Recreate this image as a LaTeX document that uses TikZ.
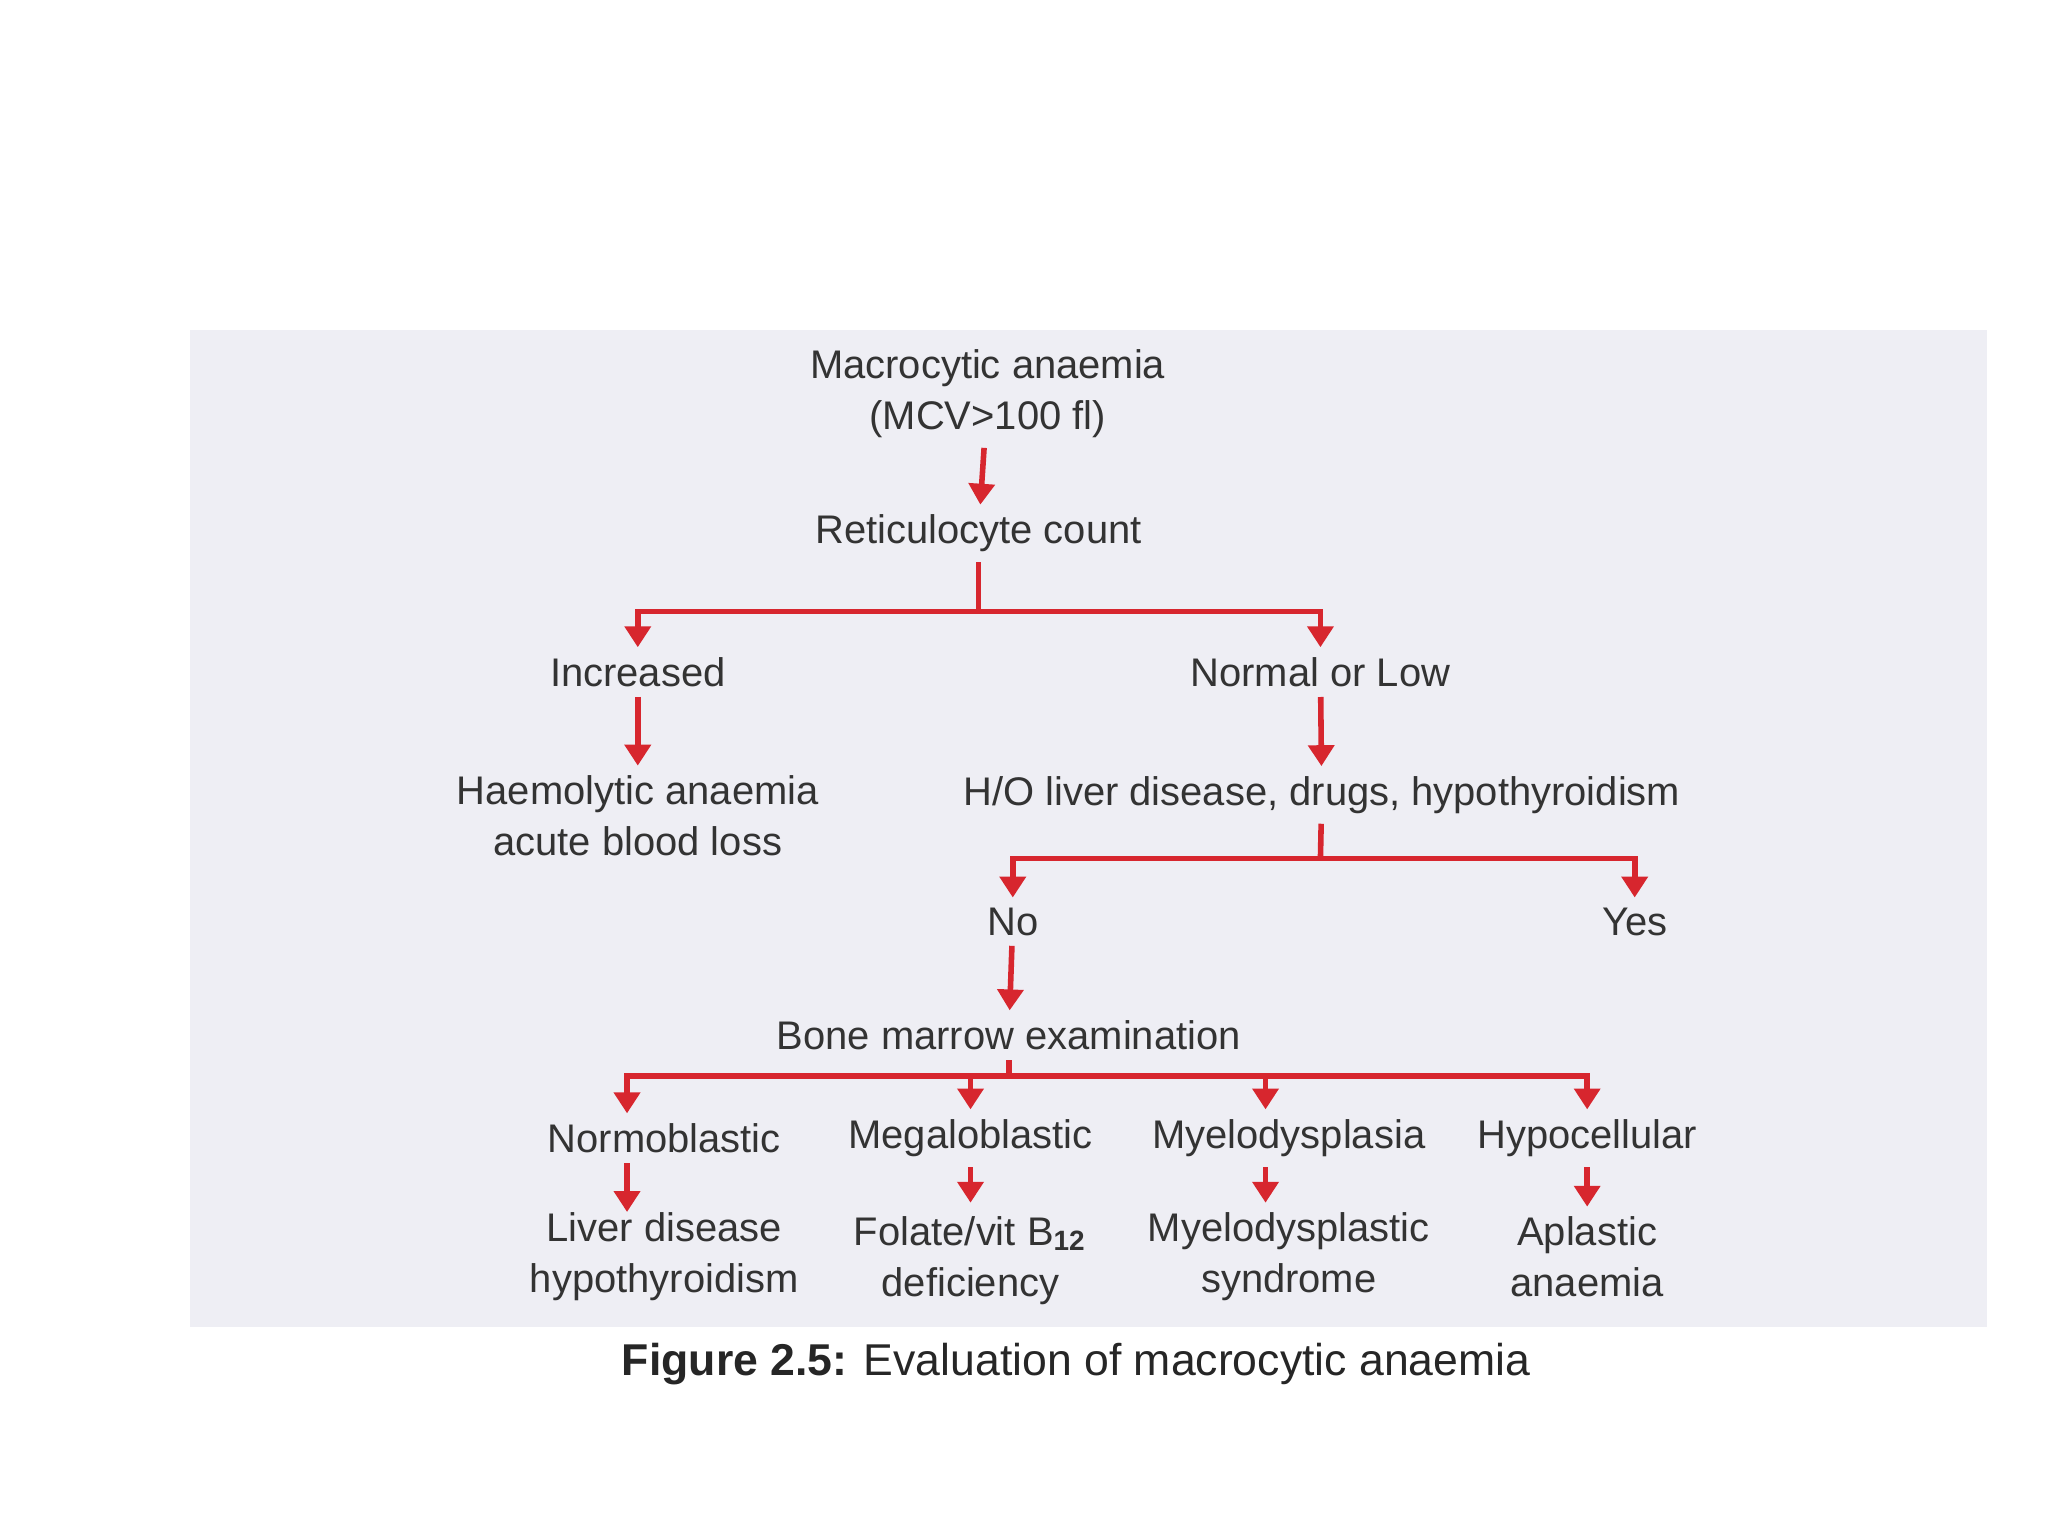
\documentclass[tikz,border=0pt]{standalone}
\usepackage{fontspec}
\setmainfont{Liberation Sans}
\usetikzlibrary{arrows.meta}
\definecolor{bgpanel}{HTML}{EEEEF4}
\definecolor{redline}{HTML}{D7262E}
\tikzset{
  box/.style={align=center,inner sep=2pt,font=\fontsize{8.6}{11}\selectfont,text=black!80},
  link/.style={draw=redline,line width=1.2pt},
  arr/.style={link,-{Triangle[width=5.5pt,length=4.5pt]}}
}
\begin{document}
\begin{tikzpicture}[x=0.01cm,y=-0.01cm]
  \useasboundingbox (0,0) rectangle (1551,1163);
  \fill[bgpanel] (144,250) rectangle (1505,1005);
  % levels
  \node[box] (macro) at (748,298) {Macrocytic anaemia\\(MCV>100 fl)};
  \node[box] (retic) at (741,404) {Reticulocyte count};
  \node[box] (inc) at (483,509) {Increased};
  \node[box] (nor) at (1000,509) {Normal or Low};
  \node[box] (haem) at (483,618) {Haemolytic anaemia\\acute blood loss};
  \node[box] (liver) at (1001,602) {H/O liver disease, drugs, hypothyroidism};
  \node[box] (no) at (767,698) {No};
  \node[box] (yes) at (1238,698) {Yes};
  \node[box] (bone) at (764,784) {Bone marrow examination};
  \node[box] (normo) at (503,862) {Normoblastic};
  \node[box] (mega) at (735,862) {Megaloblastic};
  \node[box] (myelo) at (976,862) {Myelodysplasia};
  \node[box] (hypo) at (1202,862) {Hypocellular};
  \node[box] (ldis) at (503,952) {Liver disease\\hypothyroidism};
  \node[box] (fol) at (735,955) {Folate/vit B\textsubscript{\textbf{12}}\\deficiency};
  \node[box] (mds) at (976,952) {Myelodysplastic\\syndrome};
  \node[box] (apl) at (1202,952) {Aplastic\\anaemia};
  \node[font=\fontsize{9.6}{12}\selectfont,text=black!85] (cap) at (815,1033) {\textbf{Figure 2.5:} Evaluation of macrocytic anaemia};
  % junctions
  \coordinate (j1) at (741,463);
  \coordinate (j2) at (1000,650);
  \coordinate (j3) at (764,815);
  % connectors
  \draw[arr] (macro) -- (retic);
  \draw[link] (retic) -- (j1);
  \draw[arr] (j1) -| (inc);
  \draw[arr] (j1) -| (nor);
  \draw[arr] (inc) -- (haem);
  \draw[arr] (nor) -- (liver);
  \draw[link] (liver) -- (j2);
  \draw[arr] (j2) -| (no);
  \draw[arr] (j2) -| (yes);
  \draw[arr] (no) -- (bone);
  \draw[link] (bone) -- (j3);
  \draw[arr] (j3) -| ([xshift=-8]normo.north);
  \draw[arr] (j3) -| (mega);
  \draw[arr] (j3) -| ([xshift=-5]myelo.north);
  \draw[arr] (j3) -| (hypo);
  \draw[arr] ([xshift=-8]normo.south) -- ([xshift=-8,yshift=-2]normo.south |- ldis.north);
  \draw[arr] (mega) -- (mega |- ldis.north);
  \draw[arr] ([xshift=-5]myelo.south) -- ([xshift=-5]myelo.south |- mds.north);
  \draw[arr] (hypo) -- (apl);
\end{tikzpicture}
\end{document}
